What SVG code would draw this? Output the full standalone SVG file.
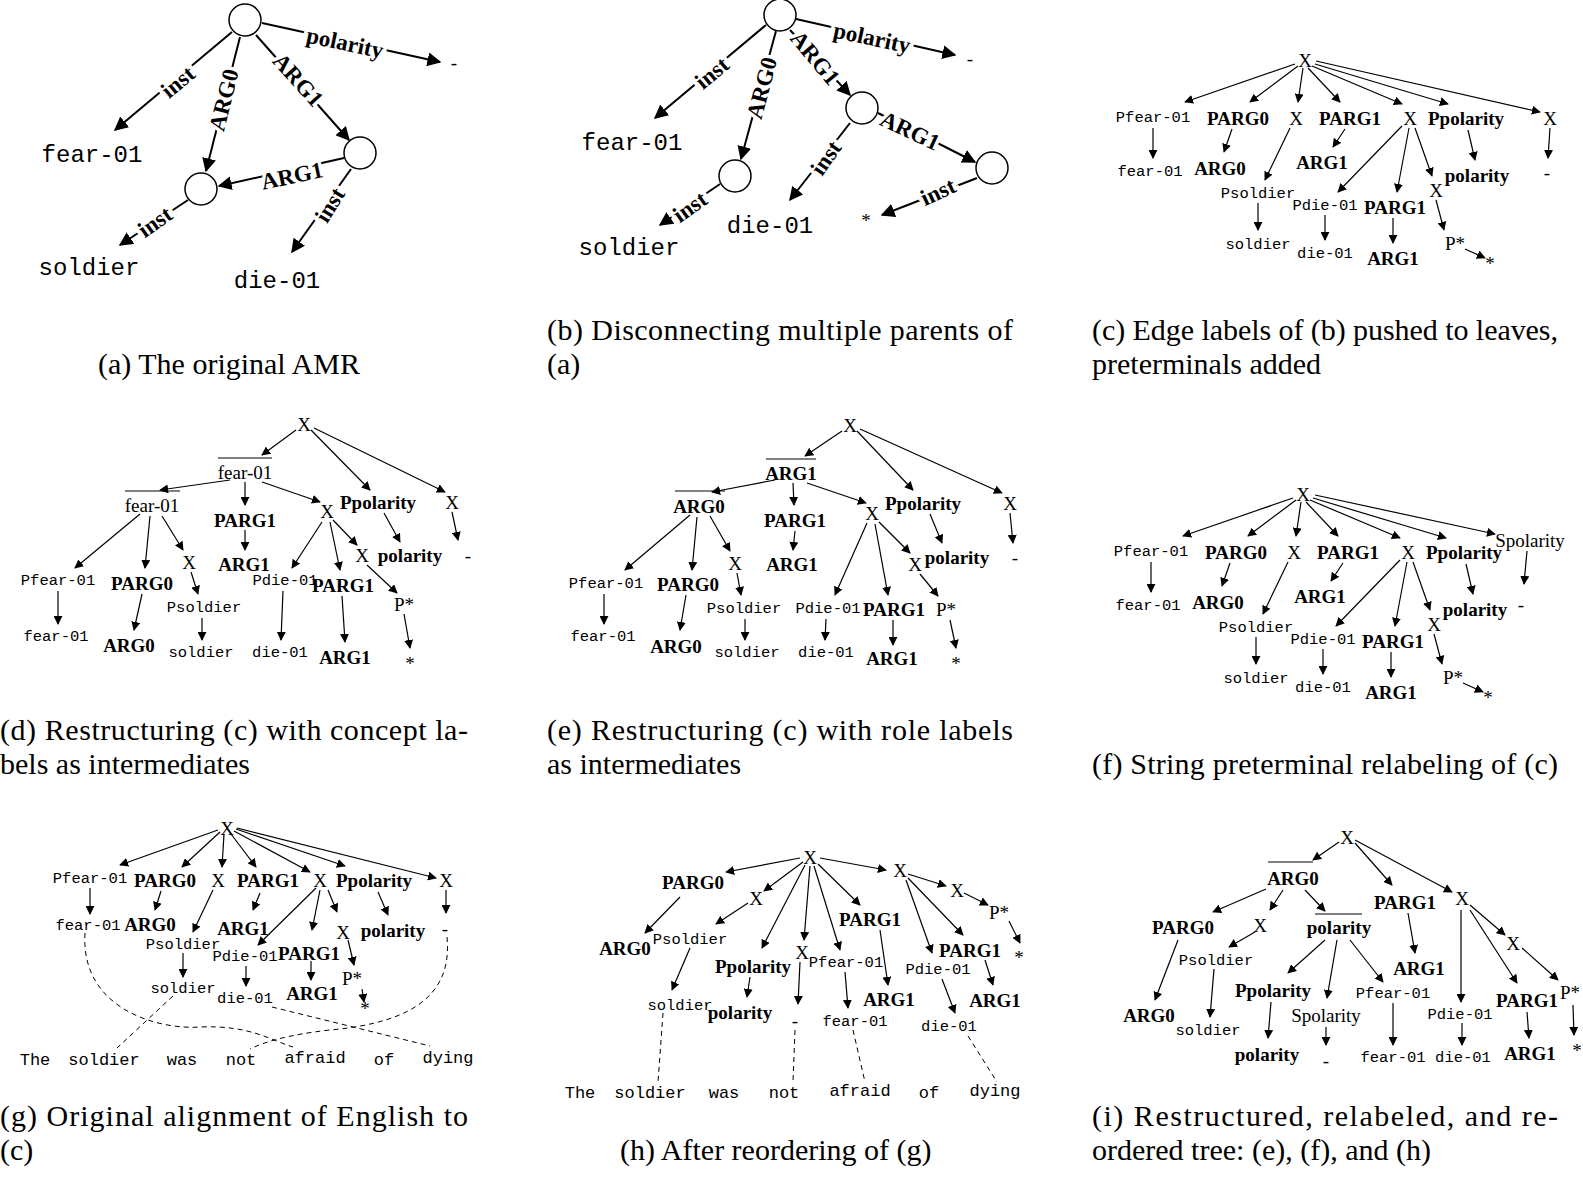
<svg xmlns="http://www.w3.org/2000/svg" width="1583" height="1180" viewBox="0 0 1583 1180">
<defs>
<marker id="ar" viewBox="0 0 10 10" refX="9" refY="5" markerWidth="9" markerHeight="9" markerUnits="userSpaceOnUse" orient="auto"><path d="M0,0 L10,5 L0,10 z" fill="#000"/></marker>
<marker id="arb" viewBox="0 0 10 10" refX="9" refY="5" markerWidth="14" markerHeight="14" markerUnits="userSpaceOnUse" orient="auto"><path d="M0,0 L10,5 L0,10 z" fill="#000"/></marker>
</defs>
<style>
text{dominant-baseline:central;text-anchor:middle;fill:#000}
.s{font-family:"Liberation Serif",serif;font-size:19px}
.b{font-family:"Liberation Serif",serif;font-size:19px;font-weight:bold}
.m{font-family:"Liberation Mono",monospace;font-size:15.5px}
.bl{font-family:"Liberation Serif",serif;font-size:23px;font-weight:bold;paint-order:stroke;stroke:#fff;stroke-width:7px}
.ml{font-family:"Liberation Mono",monospace;font-size:24px}
.w{font-family:"Liberation Mono",monospace;font-size:17px}
.cap{font-family:"Liberation Serif",serif;font-size:30px;text-anchor:start;dominant-baseline:alphabetic}
.e path{fill:none;stroke:#000;stroke-width:1.2;marker-end:url(#ar)}
.big path{fill:none;stroke:#000;stroke-width:2;marker-end:url(#arb)}
.d path{fill:none;stroke:#000;stroke-width:1;stroke-dasharray:5,4}
.ov{stroke:#000;stroke-width:1.2}
circle{fill:#fff;stroke:#000;stroke-width:1.5}
</style>
<rect width="1583" height="1180" fill="#fff"/>

<!-- (a) -->
<g id="panel-a">
<g class="big">
<path d="M262,23 L440,62"/><path d="M232,32 L115,130"/><path d="M240,37 L206,171"/><path d="M256,35 L349,140"/>
<path d="M344,158 L219,186"/><path d="M188,200 L120,245"/><path d="M351,169 L292,252"/>
</g>
<circle cx="245" cy="20" r="16"/><circle cx="360" cy="153" r="16"/><circle cx="201" cy="189" r="16"/>
<text class="bl" transform="translate(345,43) rotate(12)">polarity</text>
<text class="bl" transform="translate(178,82) rotate(-40)">inst</text>
<text class="bl" transform="translate(224,100) rotate(-76)">ARG0</text>
<text class="bl" transform="translate(298,80) rotate(48)">ARG1</text>
<text class="bl" transform="translate(292,176) rotate(-12)">ARG1</text>
<text class="bl" transform="translate(155,222) rotate(-35)">inst</text>
<text class="bl" transform="translate(330,205) rotate(-58)">inst</text>
<text class="ml" x="92" y="155">fear-01</text>
<text class="ml" x="89" y="268">soldier</text>
<text class="ml" x="277" y="281">die-01</text>
<text class="s" x="454" y="62">-</text>
<text class="cap" x="98" y="374">(a) The original AMR</text>
</g>

<!-- (b) -->
<g id="panel-b">
<g class="big">
<path d="M796,19 L955,55"/><path d="M766,25 L655,118"/><path d="M776,31 L741,159"/><path d="M790,30 L850,95"/>
<path d="M878,113 L975,162"/><path d="M720,184 L660,225"/><path d="M850,123 L790,200"/><path d="M977,178 L882,215"/>
</g>
<circle cx="780" cy="15" r="16"/><circle cx="862" cy="108" r="16"/><circle cx="992" cy="168" r="16"/><circle cx="735" cy="176" r="16"/>
<text class="bl" transform="translate(872,38) rotate(12)">polarity</text>
<text class="bl" transform="translate(712,73) rotate(-40)">inst</text>
<text class="bl" transform="translate(762,88) rotate(-75)">ARG0</text>
<text class="bl" transform="translate(815,58) rotate(50)">ARG1</text>
<text class="bl" transform="translate(910,131) rotate(25)">ARG1</text>
<text class="bl" transform="translate(690,207) rotate(-35)">inst</text>
<text class="bl" transform="translate(826,158) rotate(-55)">inst</text>
<text class="bl" transform="translate(938,192) rotate(-25)">inst</text>
<text class="ml" x="632" y="143">fear-01</text>
<text class="ml" x="629" y="248">soldier</text>
<text class="ml" x="770" y="226">die-01</text>
<text class="s" x="970" y="58">-</text>
<text class="s" x="866" y="220">*</text>
<text class="cap" x="547" y="340" textLength="466" lengthAdjust="spacing">(b) Disconnecting multiple parents of</text>
<text class="cap" x="547" y="374">(a)</text>
</g>

<!-- (c) -->
<g id="panel-c">
<g class="e">
<path d="M1295,64 L1185,102"/><path d="M1298,66 L1250,102"/><path d="M1303,68 L1298,102"/><path d="M1308,68 L1340,102"/><path d="M1312,66 L1402,104"/><path d="M1315,64 L1448,104"/><path d="M1316,61 L1540,112"/>
<path d="M1153,128 L1153,158"/><path d="M1232,129 L1224,152"/><path d="M1290,128 L1265,180"/><path d="M1345,129 L1333,147"/>
<path d="M1402,126 L1338,192"/><path d="M1409,128 L1397,192"/><path d="M1415,128 L1432,176"/><path d="M1468,130 L1475,160"/><path d="M1550,128 L1548,158"/>
<path d="M1258,203 L1258,230"/><path d="M1325,215 L1325,240"/><path d="M1393,218 L1393,243"/><path d="M1436,200 L1444,230"/><path d="M1465,249 L1485,258"/>
</g>
<text class="s" x="1305" y="60">X</text>
<text class="m" x="1153" y="118">Pfear-01</text><text class="b" x="1238" y="118">PARG0</text><text class="s" x="1296" y="118">X</text><text class="b" x="1350" y="118">PARG1</text><text class="s" x="1410" y="118">X</text><text class="b" x="1466" y="118">Ppolarity</text><text class="s" x="1550" y="118">X</text>
<text class="m" x="1150" y="172">fear-01</text><text class="b" x="1220" y="168">ARG0</text><text class="m" x="1258" y="194">Psoldier</text><text class="b" x="1322" y="162">ARG1</text><text class="m" x="1325" y="206">Pdie-01</text><text class="b" x="1395" y="207">PARG1</text><text class="s" x="1436" y="190">X</text><text class="b" x="1477" y="175">polarity</text><text class="s" x="1547" y="172">-</text>
<text class="m" x="1258" y="245">soldier</text><text class="m" x="1325" y="254">die-01</text><text class="b" x="1393" y="258">ARG1</text><text class="s" x="1455" y="243">P*</text><text class="s" x="1490" y="263">*</text>
<text class="cap" x="1092" y="340" textLength="466" lengthAdjust="spacing">(c) Edge labels of (b) pushed to leaves,</text>
<text class="cap" x="1092" y="374">preterminals added</text>
</g>

<!-- (d) -->
<g id="panel-d">
<g class="e">
<path d="M296,430 L262,455"/><path d="M311,430 L370,490"/><path d="M314,428 L445,492"/>
<path d="M230,480 L160,490"/><path d="M245,482 L245,505"/><path d="M262,482 L320,502"/><path d="M384,513 L400,542"/><path d="M452,512 L458,540"/>
<path d="M140,514 L75,568"/><path d="M150,516 L145,568"/><path d="M162,516 L183,550"/><path d="M191,572 L198,594"/>
<path d="M322,522 L292,568"/><path d="M330,522 L340,570"/><path d="M333,520 L357,545"/><path d="M367,565 L397,593"/>
<path d="M245,530 L245,550"/><path d="M58,591 L58,624"/><path d="M142,594 L134,630"/><path d="M202,618 L202,640"/><path d="M283,591 L281,640"/><path d="M342,596 L345,642"/><path d="M404,614 L410,648"/>
</g>
<line class="ov" x1="218" y1="458" x2="272" y2="458"/><line class="ov" x1="125" y1="491" x2="180" y2="491"/>
<text class="s" x="304" y="424">X</text>
<text class="s" x="245" y="472">fear-01</text><text class="b" x="378" y="502">Ppolarity</text><text class="s" x="452" y="502">X</text>
<text class="s" x="152" y="505">fear-01</text><text class="b" x="245" y="520">PARG1</text><text class="s" x="327" y="511">X</text>
<text class="b" x="410" y="555">polarity</text><text class="s" x="468" y="555">-</text>
<text class="m" x="58" y="581">Pfear-01</text><text class="b" x="142" y="583">PARG0</text><text class="s" x="189" y="562">X</text>
<text class="m" x="285" y="581">Pdie-01</text><text class="b" x="343" y="585">PARG1</text><text class="s" x="362" y="555">X</text><text class="s" x="404" y="604">P*</text>
<text class="b" x="244" y="564">ARG1</text><text class="m" x="204" y="608">Psoldier</text>
<text class="m" x="56" y="637">fear-01</text><text class="b" x="129" y="645">ARG0</text><text class="m" x="201" y="653">soldier</text><text class="m" x="280" y="653">die-01</text><text class="b" x="345" y="657">ARG1</text><text class="s" x="410" y="663">*</text>
<text class="cap" x="0" y="740" textLength="468" lengthAdjust="spacing">(d) Restructuring (c) with concept la-</text>
<text class="cap" x="0" y="774">bels as intermediates</text>
</g>

<!-- (e) -->
<g id="panel-e">
<g class="e">
<path d="M842,431 L805,456"/><path d="M857,431 L913,490"/><path d="M860,429 L1002,493"/>
<path d="M775,480 L712,492"/><path d="M793,483 L794,505"/><path d="M807,483 L866,503"/>
<path d="M690,515 L625,570"/><path d="M697,517 L692,570"/><path d="M710,516 L730,551"/><path d="M737,573 L741,595"/>
<path d="M795,531 L793,550"/><path d="M867,523 L835,595"/><path d="M875,524 L888,595"/><path d="M879,522 L910,553"/><path d="M920,574 L938,596"/>
<path d="M930,514 L942,543"/><path d="M1010,513 L1013,543"/><path d="M604,594 L604,624"/><path d="M686,595 L680,630"/><path d="M745,619 L745,640"/><path d="M826,619 L825,640"/><path d="M893,620 L893,645"/><path d="M950,620 L956,648"/>
</g>
<line class="ov" x1="766" y1="459" x2="816" y2="459"/><line class="ov" x1="675" y1="491" x2="725" y2="491"/>
<text class="s" x="850" y="425">X</text>
<text class="b" x="791" y="473">ARG1</text><text class="b" x="923" y="503">Ppolarity</text><text class="s" x="1010" y="503">X</text>
<text class="b" x="699" y="506">ARG0</text><text class="b" x="795" y="520">PARG1</text><text class="s" x="872" y="513">X</text>
<text class="b" x="957" y="557">polarity</text><text class="s" x="1015" y="557">-</text>
<text class="m" x="606" y="584">Pfear-01</text><text class="b" x="688" y="584">PARG0</text><text class="s" x="735" y="563">X</text>
<text class="m" x="744" y="609">Psoldier</text><text class="b" x="792" y="564">ARG1</text><text class="m" x="828" y="609">Pdie-01</text><text class="b" x="894" y="609">PARG1</text><text class="s" x="915" y="564">X</text><text class="s" x="946" y="609">P*</text>
<text class="m" x="603" y="637">fear-01</text><text class="b" x="676" y="646">ARG0</text><text class="m" x="747" y="653">soldier</text><text class="m" x="826" y="653">die-01</text><text class="b" x="892" y="658">ARG1</text><text class="s" x="956" y="663">*</text>
<text class="cap" x="547" y="740" textLength="466" lengthAdjust="spacing">(e) Restructuring (c) with role labels</text>
<text class="cap" x="547" y="774">as intermediates</text>
</g>

<!-- (f) -->
<g id="panel-f">
<g class="e" transform="translate(-2,434)">
<path d="M1295,64 L1185,102"/><path d="M1298,66 L1250,102"/><path d="M1303,68 L1298,102"/><path d="M1308,68 L1340,102"/><path d="M1312,66 L1402,104"/><path d="M1315,64 L1448,104"/>
<path d="M1153,128 L1153,158"/><path d="M1232,129 L1224,152"/><path d="M1290,128 L1265,180"/><path d="M1345,129 L1333,147"/>
<path d="M1402,126 L1338,192"/><path d="M1409,128 L1397,192"/><path d="M1415,128 L1432,176"/><path d="M1468,130 L1475,160"/>
<path d="M1258,203 L1258,230"/><path d="M1325,215 L1325,240"/><path d="M1393,218 L1393,243"/><path d="M1436,200 L1444,230"/><path d="M1465,249 L1485,258"/>
</g>
<g class="e"><path d="M1315,495 L1495,534"/><path d="M1527,551 L1524,584"/></g>
<text class="s" x="1303" y="494">X</text>
<text class="m" x="1151" y="552">Pfear-01</text><text class="b" x="1236" y="552">PARG0</text><text class="s" x="1294" y="552">X</text><text class="b" x="1348" y="552">PARG1</text><text class="s" x="1408" y="552">X</text><text class="b" x="1464" y="552">Ppolarity</text><text class="s" x="1530" y="540">Spolarity</text>
<text class="m" x="1148" y="606">fear-01</text><text class="b" x="1218" y="602">ARG0</text><text class="m" x="1256" y="628">Psoldier</text><text class="b" x="1320" y="596">ARG1</text><text class="m" x="1323" y="640">Pdie-01</text><text class="b" x="1393" y="641">PARG1</text><text class="s" x="1434" y="624">X</text><text class="b" x="1475" y="609">polarity</text><text class="s" x="1521" y="604">-</text>
<text class="m" x="1256" y="679">soldier</text><text class="m" x="1323" y="688">die-01</text><text class="b" x="1391" y="692">ARG1</text><text class="s" x="1453" y="677">P*</text><text class="s" x="1488" y="697">*</text>
<text class="cap" x="1092" y="774" textLength="466" lengthAdjust="spacing">(f) String preterminal relabeling of (c)</text>
</g>

<!-- (g) -->
<g id="panel-g">
<g class="e">
<path d="M218,830 L120,865"/><path d="M220,832 L182,867"/><path d="M224,834 L222,867"/><path d="M231,834 L256,867"/><path d="M234,831 L310,872"/><path d="M236,829 L345,866"/><path d="M237,828 L436,878"/>
<path d="M90,888 L90,914"/><path d="M161,891 L155,910"/><path d="M213,890 L193,932"/><path d="M260,893 L253,910"/>
<path d="M316,888 L258,945"/><path d="M320,890 L312,930"/><path d="M328,890 L337,912"/><path d="M378,892 L388,915"/><path d="M446,890 L446,913"/>
<path d="M183,953 L183,977"/><path d="M246,966 L246,986"/><path d="M311,961 L311,980"/><path d="M348,940 L354,965"/><path d="M362,989 L364,1002"/>
</g>
<g class="d">
<path d="M85,933 C80,1010 160,1030 200,1027 C250,1025 270,1040 293,1047"/>
<path d="M173,996 L117,1048"/>
<path d="M272,1007 L430,1046"/>
<path d="M447,937 C452,990 420,1022 330,1030 C285,1035 262,1043 250,1049"/>
</g>
<text class="s" x="227" y="828">X</text>
<text class="m" x="90" y="879">Pfear-01</text><text class="b" x="165" y="880">PARG0</text><text class="s" x="218" y="880">X</text><text class="b" x="268" y="880">PARG1</text><text class="s" x="320" y="880">X</text><text class="b" x="374" y="880">Ppolarity</text><text class="s" x="446" y="880">X</text>
<text class="m" x="88" y="926">fear-01</text><text class="b" x="150" y="924">ARG0</text><text class="m" x="183" y="945">Psoldier</text><text class="b" x="243" y="928">ARG1</text><text class="m" x="245" y="957">Pdie-01</text><text class="b" x="309" y="953">PARG1</text><text class="s" x="343" y="932">X</text><text class="b" x="393" y="930">polarity</text><text class="s" x="445" y="928">-</text>
<text class="m" x="183" y="989">soldier</text><text class="m" x="245" y="999">die-01</text><text class="b" x="312" y="993">ARG1</text><text class="s" x="352" y="978">P*</text><text class="s" x="365" y="1008">*</text>
<text class="w" x="35" y="1060">The</text><text class="w" x="104" y="1060">soldier</text><text class="w" x="182" y="1060">was</text><text class="w" x="241" y="1060">not</text><text class="w" x="315" y="1058">afraid</text><text class="w" x="384" y="1060">of</text><text class="w" x="448" y="1058">dying</text>
<text class="cap" x="0" y="1126" textLength="468" lengthAdjust="spacing">(g) Original alignment of English to</text>
<text class="cap" x="0" y="1160">(c)</text>
</g>

<!-- (h) -->
<g id="panel-h">
<g class="e">
<path d="M800,858 L726,872"/><path d="M803,862 L764,891"/><path d="M805,865 L762,948"/><path d="M810,866 L804,940"/><path d="M814,866 L840,950"/><path d="M818,864 L860,905"/><path d="M820,858 L886,870"/>
<path d="M908,874 L946,886"/><path d="M906,880 L932,953"/><path d="M908,878 L963,935"/><path d="M964,893 L988,905"/><path d="M1009,921 L1020,943"/>
<path d="M680,897 L645,933"/><path d="M748,903 L716,924"/><path d="M690,948 L672,990"/><path d="M750,977 L747,997"/><path d="M800,962 L798,1004"/><path d="M845,972 L848,1008"/><path d="M880,930 L888,985"/><path d="M942,979 L955,1013"/><path d="M985,960 L993,985"/>
</g>
<g class="d">
<path d="M663,1013 L658,1082"/><path d="M795,1030 L793,1082"/><path d="M853,1030 L865,1082"/><path d="M968,1036 L997,1082"/>
</g>
<text class="s" x="810" y="857">X</text>
<text class="b" x="693" y="882">PARG0</text><text class="s" x="756" y="898">X</text><text class="b" x="753" y="966">Ppolarity</text><text class="s" x="802" y="952">X</text><text class="m" x="846" y="963">Pfear-01</text><text class="b" x="870" y="919">PARG1</text><text class="s" x="900" y="870">X</text><text class="s" x="957" y="890">X</text><text class="s" x="999" y="912">P*</text>
<text class="m" x="690" y="940">Psoldier</text><text class="b" x="625" y="948">ARG0</text><text class="m" x="680" y="1006">soldier</text><text class="b" x="740" y="1012">polarity</text><text class="s" x="795" y="1020">-</text><text class="m" x="855" y="1022">fear-01</text><text class="b" x="889" y="999">ARG1</text><text class="m" x="938" y="970">Pdie-01</text><text class="b" x="970" y="950">PARG1</text><text class="s" x="1019" y="957">*</text><text class="m" x="949" y="1027">die-01</text><text class="b" x="995" y="1000">ARG1</text>
<text class="w" x="580" y="1093">The</text><text class="w" x="650" y="1093">soldier</text><text class="w" x="724" y="1093">was</text><text class="w" x="784" y="1093">not</text><text class="w" x="860" y="1091">afraid</text><text class="w" x="929" y="1093">of</text><text class="w" x="995" y="1091">dying</text>
<text class="cap" x="620" y="1160">(h) After reordering of (g)</text>
</g>

<!-- (i) -->
<g id="panel-i">
<g class="e">
<path d="M1339,842 L1313,860"/><path d="M1355,843 L1392,885"/><path d="M1355,840 L1452,892"/>
<path d="M1266,889 L1213,912"/><path d="M1283,890 L1270,910"/><path d="M1305,890 L1325,911"/>
<path d="M1255,932 L1229,947"/><path d="M1178,940 L1155,1000"/><path d="M1214,969 L1210,1017"/>
<path d="M1325,940 L1288,973"/><path d="M1337,940 L1327,998"/><path d="M1350,940 L1383,982"/>
<path d="M1408,913 L1415,953"/><path d="M1461,910 L1461,1002"/><path d="M1470,910 L1517,983"/><path d="M1470,905 L1505,935"/><path d="M1522,948 L1558,980"/>
<path d="M1271,1002 L1268,1038"/><path d="M1326,1027 L1326,1045"/><path d="M1393,1003 L1393,1045"/><path d="M1462,1023 L1462,1045"/><path d="M1527,1012 L1529,1038"/><path d="M1573,1005 L1574,1035"/>
</g>
<line class="ov" x1="1268" y1="862" x2="1313" y2="862"/><line class="ov" x1="1315" y1="914" x2="1362" y2="914"/>
<text class="s" x="1347" y="837">X</text>
<text class="b" x="1293" y="878">ARG0</text><text class="b" x="1405" y="902">PARG1</text><text class="s" x="1462" y="898">X</text>
<text class="b" x="1183" y="927">PARG0</text><text class="s" x="1260" y="925">X</text><text class="b" x="1339" y="927">polarity</text><text class="s" x="1513" y="943">X</text>
<text class="m" x="1216" y="961">Psoldier</text><text class="b" x="1419" y="968">ARG1</text><text class="b" x="1273" y="990">Ppolarity</text><text class="s" x="1326" y="1015">Spolarity</text><text class="m" x="1393" y="994">Pfear-01</text><text class="m" x="1460" y="1015">Pdie-01</text><text class="b" x="1527" y="1000">PARG1</text><text class="s" x="1570" y="992">P*</text>
<text class="b" x="1149" y="1015">ARG0</text><text class="m" x="1208" y="1031">soldier</text><text class="b" x="1267" y="1054">polarity</text><text class="s" x="1326" y="1060">-</text><text class="m" x="1393" y="1058">fear-01</text><text class="m" x="1463" y="1058">die-01</text><text class="b" x="1530" y="1053">ARG1</text><text class="s" x="1577" y="1050">*</text>
<text class="cap" x="1092" y="1126" textLength="466" lengthAdjust="spacing">(i) Restructured, relabeled, and re-</text>
<text class="cap" x="1092" y="1160">ordered tree: (e), (f), and (h)</text>
</g>
</svg>
